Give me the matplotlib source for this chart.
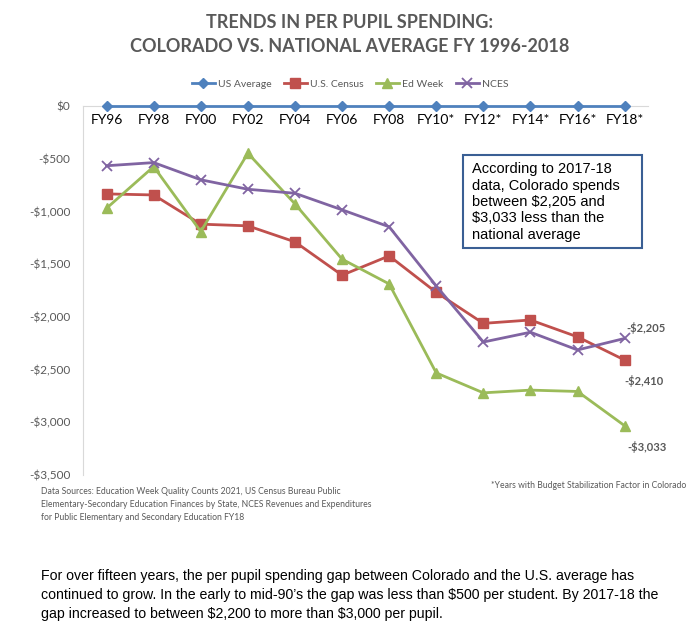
import matplotlib.pyplot as plt
from matplotlib.patches import Rectangle
from matplotlib.ticker import FuncFormatter

years = ["FY96", "FY98", "FY00", "FY02", "FY04", "FY06", "FY08",
         "FY10*", "FY12*", "FY14*", "FY16*", "FY18*"]
us_average = [0, 0, 0, 0, 0, 0, 0, 0, 0, 0, 0, 0]
us_census = [-834, -844, -1121, -1137, -1289, -1605, -1422,
             -1768, -2062, -2030, -2190, -2410]
ed_week = [-970, -575, -1191, -448, -929, -1453, -1688,
           -2532, -2721, -2695, -2708, -3033]
nces = [-567, -537, -700, -790, -828, -985, -1146,
        -1707, -2239, -2146, -2314, -2205]

grey = "#595959"
plt.rcParams["font.family"] = ["Lato", "DejaVu Sans"]

fig = plt.figure(figsize=(7, 6.23), dpi=100)
ax = fig.add_axes([0.1186, 0.2376, 0.926 - 0.1186, 0.8299 - 0.2376])

x = list(range(len(years)))
ax.plot(x, us_average, color="#4f81bd", marker="D", markersize=5, lw=2,
        label="US Average", clip_on=False, zorder=5)
ax.plot(x, us_census, color="#c0504d", marker="s", markersize=6.5, lw=2,
        label="U.S. Census")
ax.plot(x, ed_week, color="#9bbb59", marker="^", markersize=7, lw=2,
        label="Ed Week")
ax.plot(x, nces, color="#8064a2", marker="x", markersize=7, mew=1.3, lw=2,
        label="NCES")

ax.set_xlim(-0.5, len(years) - 0.5)
ax.set_ylim(-3500, 0)
ax.set_yticks(range(-3500, 1, 500))
ax.yaxis.set_major_formatter(FuncFormatter(
    lambda v, p: "$0" if v == 0 else "-${:,.0f}".format(abs(v))))
ax.set_xticks(x)
ax.set_xticklabels(years, fontsize=6, color=grey)
for lbl in ax.get_xticklabels():
    lbl.set_fontstretch("expanded")
ax.tick_params(axis="y", length=0, labelsize=8.5, labelcolor=grey, pad=9)
ax.tick_params(axis="x", length=0, pad=6)
ax.spines["bottom"].set_position(("data", 0))
ax.spines["bottom"].set_color("#d9d9d9")
ax.spines["left"].set_color("#d9d9d9")
ax.spines["top"].set_visible(False)
ax.spines["right"].set_visible(False)

# end-point labels
ax.annotate("-${:,}".format(abs(nces[-1])), (x[-1], nces[-1]),
            xytext=(1, 3), textcoords="offset points", fontsize=8,
            color=grey, fontweight="bold", va="bottom")
ax.annotate("-${:,}".format(abs(us_census[-1])), (x[-1], us_census[-1]),
            xytext=(0, -11), textcoords="offset points", fontsize=8,
            color=grey, fontweight="bold", va="top")
ax.annotate("-${:,}".format(abs(ed_week[-1])), (x[-1], ed_week[-1]),
            xytext=(2, -11), textcoords="offset points", fontsize=8,
            color=grey, fontweight="bold", va="top")

fig.legend(loc="center", bbox_to_anchor=(0.5, 1 - 84 / 623), ncol=4,
           frameon=False, fontsize=7.5, handlelength=2.2, columnspacing=1.2,
           handletextpad=0.3, labelcolor=grey)

fig.text(0.5, 1 - 22 / 623, "TRENDS IN PER PUPIL SPENDING:", ha="center",
         va="center", fontsize=13, fontweight="bold", color=grey)
fig.text(0.5, 1 - 47 / 623, "COLORADO VS. NATIONAL AVERAGE FY 1996-2018",
         ha="center", va="center", fontsize=13, fontweight="bold", color=grey)

# annotation box
fig.patches.append(Rectangle((463 / 700, 1 - 248 / 623), 179 / 700, 93 / 623,
                             transform=fig.transFigure, fc="white",
                             ec="#3a5f94", lw=1.5, zorder=10))
fig.text(472 / 700, 1 - 202 / 623,
         "According to 2017-18\ndata, Colorado spends\nbetween \\$2,205 and\n"
         "\\$3,033 less than the\nnational average",
         ha="left", va="center", fontsize=10.5, family="Liberation Sans",
         color="black", linespacing=1.22, zorder=11)

fig.text(41 / 700, 1 - 487 / 623,
         "Data Sources: Education Week Quality Counts 2021, US Census Bureau Public\n"
         "Elementary-Secondary Education Finances by State, NCES Revenues and Expenditures\n"
         "for Public Elementary and Secondary Education FY18",
         ha="left", va="top", fontsize=6.2, color=grey, linespacing=1.6)
fig.text(686 / 700, 1 - 486 / 623,
         "*Years with Budget Stabilization Factor in Colorado",
         ha="right", va="center", fontsize=6.2, color=grey)

fig.text(41 / 700, 1 - 569 / 623,
         "For over fifteen years, the per pupil spending gap between Colorado and the U.S. average has\n"
         "continued to grow. In the early to mid-90\u2019s the gap was less than \\$500 per student. By 2017-18 the\n"
         "gap increased to between \\$2,200 to more than \\$3,000 per pupil.",
         ha="left", va="top", fontsize=10.2, family="Liberation Sans",
         color="black", linespacing=1.45)

fig.savefig("out.png", dpi=100)
